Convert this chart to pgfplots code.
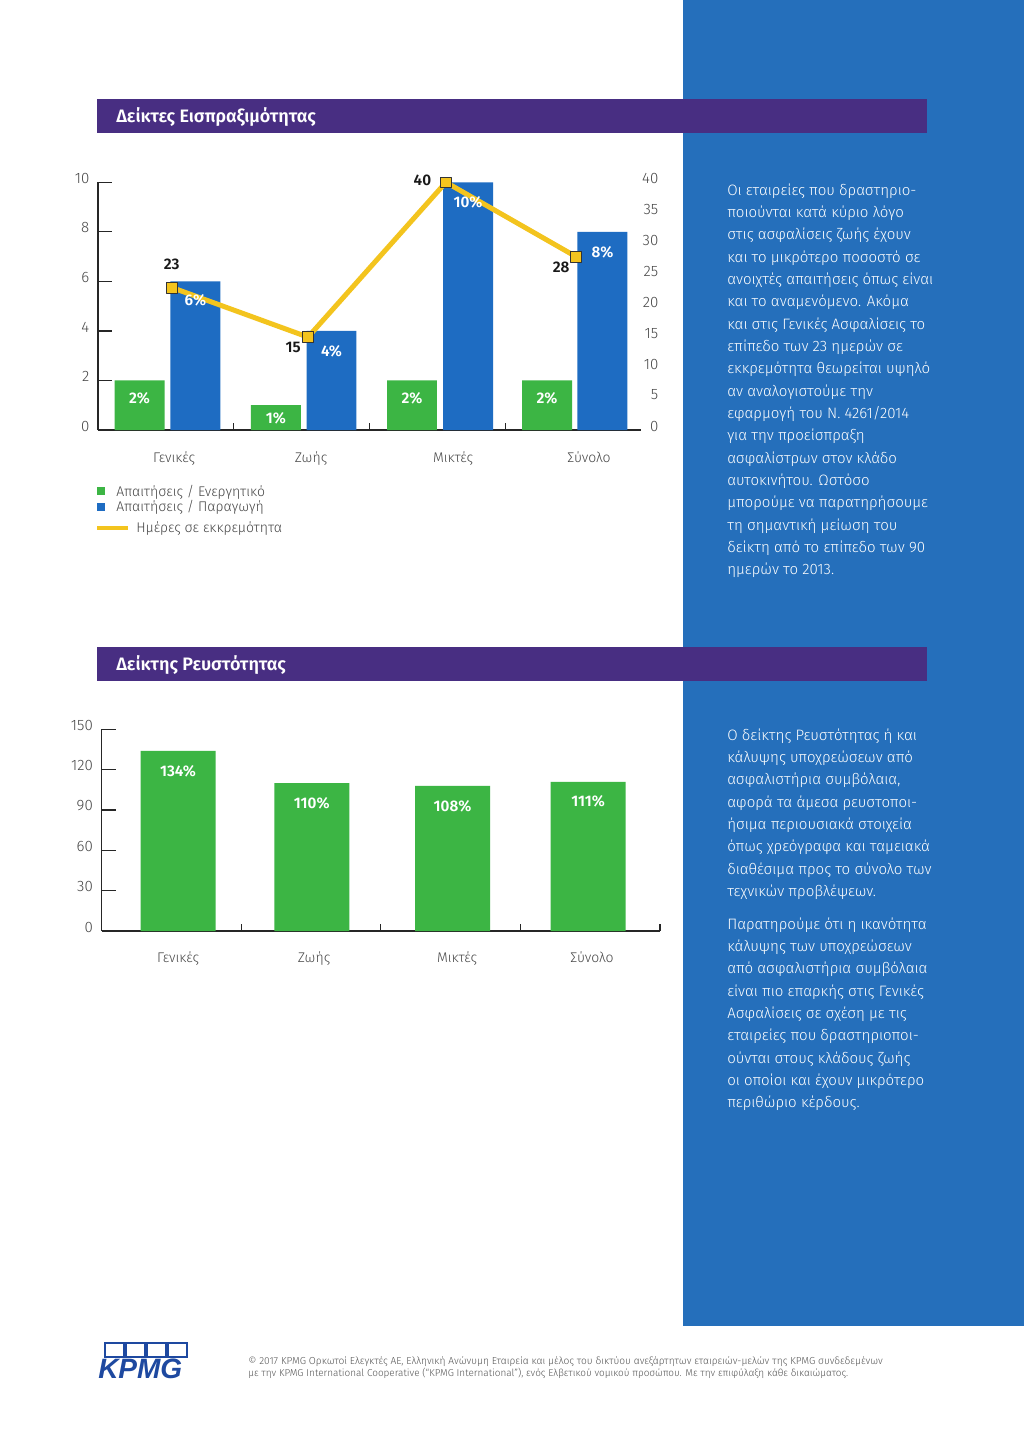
\documentclass[border=0pt]{standalone}
\usepackage{pgfplots}
\pgfplotsset{compat=1.18}
\usepackage{fontspec}
\setmainfont{Fira Sans}[UprightFont={* Light}, BoldFont={* SemiBold}, ItalicFont={* Light Italic}, BoldItalicFont={* SemiBold Italic}]
\newfontfamily\arialfont{Liberation Sans}
\definecolor{panelblue}{RGB}{37,111,187}
\definecolor{hdrpurple}{RGB}{72,46,130}
\definecolor{bargreen}{RGB}{60,181,68}
\definecolor{barblue}{RGB}{30,108,194}
\definecolor{lineyellow}{RGB}{243,196,30}
\definecolor{ticktext}{RGB}{70,70,70}
\definecolor{kpmgblue}{RGB}{30,73,160}
\definecolor{foot}{RGB}{85,85,85}
\pgfplotsset{/pgf/number format/assume math mode=true}
\begin{document}
\begin{tikzpicture}
\begin{scope}[x=0.75pt,y=-0.75pt]
\useasboundingbox (0,0) rectangle (1024,1439);
\fill[white] (0,0) rectangle (1024,1439);
\fill[panelblue] (683,0) rectangle (1024,1326);
\fill[hdrpurple] (97,99) rectangle (927,133);
\fill[hdrpurple] (97,647) rectangle (927,681);
\node[anchor=base west, inner sep=0, text=white, font=\bfseries\fontsize{13.5}{16}\selectfont] at (116,122) {Δείκτες Εισπραξιμότητας};
\node[anchor=base west, inner sep=0, text=white, font=\bfseries\fontsize{13.5}{16}\selectfont] at (116,670) {Δείκτης Ρευστότητας};
% right panel text
\foreach \t [count=\i from 0] in {{Οι εταιρείες που δραστηριο-},{ποιούνται κατά κύριο λόγο},{στις ασφαλίσεις ζωής έχουν},{και το μικρότερο ποσοστό σε},{ανοιχτές απαιτήσεις όπως είναι},{και το αναμενόμενο. Ακόμα},{και στις Γενικές Ασφαλίσεις το},{επίπεδο των 23 ημερών σε},{εκκρεμότητα θεωρείται υψηλό},{αν αναλογιστούμε την},{εφαρμογή του Ν. 4261/2014},{για την προείσπραξη},{ασφαλίστρων στον κλάδο},{αυτοκινήτου. Ωστόσο},{μπορούμε να παρατηρήσουμε},{τη σημαντική μείωση του},{δείκτη από το επίπεδο των 90},{ημερών το 2013.}}
  \node[anchor=base west, inner sep=0, text=white, font=\fontsize{11.3}{13}\selectfont] at (727,{195+22.35*\i}) {\t};
\foreach \t [count=\i from 0] in {{Ο δείκτης Ρευστότητας ή και},{κάλυψης υποχρεώσεων από},{ασφαλιστήρια συμβόλαια,},{αφορά τα άμεσα ρευστοποι-},{ήσιμα περιουσιακά στοιχεία},{όπως χρεόγραφα και ταμειακά},{διαθέσιμα προς το σύνολο των},{τεχνικών προβλέψεων.}}
  \node[anchor=base west, inner sep=0, text=white, font=\fontsize{11.3}{13}\selectfont] at (727,{740+22.35*\i}) {\t};
\foreach \t [count=\i from 0] in {{Παρατηρούμε ότι η ικανότητα},{κάλυψης των υποχρεώσεων},{από ασφαλιστήρια συμβόλαια},{είναι πιο επαρκής στις Γενικές},{Ασφαλίσεις σε σχέση με τις},{εταιρείες που δραστηριοποι-},{ούνται στους κλάδους ζωής},{οι οποίοι και έχουν μικρότερο},{περιθώριο κέρδους.}}
  \node[anchor=base west, inner sep=0, text=white, font=\fontsize{11.3}{13}\selectfont] at (727,{929+22.35*\i}) {\t};
% legend chart 1
\fill[bargreen] (97,487) rectangle (105,495);
\node[anchor=base west, inner sep=0, text=ticktext, font=\fontsize{10.5}{12}\selectfont] at (116,496) {Απαιτήσεις / Ενεργητικό};
\fill[barblue] (97,503) rectangle (105,511);
\node[anchor=base west, inner sep=0, text=ticktext, font=\fontsize{10.5}{12}\selectfont] at (116,511) {Απαιτήσεις / Παραγωγή};
\draw[lineyellow, line width=3.5pt] (97,528) -- (128,528);
\node[anchor=base west, inner sep=0, text=ticktext, font=\fontsize{10.5}{12}\selectfont] at (136,532) {Ημέρες σε εκκρεμότητα};
% category labels
\foreach \x/\t in {174/Γενικές,311/Ζωής,453/Μικτές,589/Σύνολο}
  \node[anchor=base, inner sep=0, text=ticktext, font=\fontsize{10.5}{12}\selectfont] at (\x,462) {\t};
\foreach \x/\t in {178/Γενικές,314/Ζωής,457/Μικτές,592/Σύνολο}
  \node[anchor=base, inner sep=0, text=ticktext, font=\fontsize{10.5}{12}\selectfont] at (\x,962) {\t};
% footer
\foreach \x in {105,126,147,168}
  \draw[kpmgblue, line width=0.8pt] (\x,1343) rectangle (\x+19,1357);
\node[anchor=base west, inner sep=0, text=kpmgblue, font=\arialfont\bfseries\itshape\fontsize{21}{21}\selectfont] at (98,1378) {KPMG};
\node[anchor=base west, inner sep=0, text=foot] at (248,1364) {\resizebox{476pt}{!}{\fontsize{7}{8}\selectfont © 2017 KPMG Ορκωτοί Ελεγκτές ΑΕ, Ελληνική Ανώνυμη Εταιρεία και μέλος του δικτύου ανεξάρτητων εταιρειών-μελών της KPMG συνδεδεμένων}};
\node[anchor=base west, inner sep=0, text=foot] at (248,1376) {\resizebox{450pt}{!}{\fontsize{7}{8}\selectfont με την KPMG International Cooperative (“KPMG International”), ενός Ελβετικού νομικού προσώπου. Με την επιφύλαξη κάθε δικαιώματος.}};
\end{scope}

% ---------- chart 1 left axis ----------
\begin{axis}[
  at={(73.5pt,-322.5pt)}, anchor=south west,
  scale only axis, width=407.25pt, height=185.775pt,
  xmin=0, xmax=4, ymin=0, ymax=10,
  axis x line*=bottom, axis y line*=left,
  axis line style={line width=0.9pt, black!85},
  xtick=\empty, ytick={0,2,4,6,8,10},
  tick align=inside, major tick length=10.5pt,
  tick style={line width=0.9pt, black!85},
  yticklabel style={font=\fontsize{11.3}{13}\selectfont, text=ticktext, xshift=-3pt, yshift=3pt},
  clip=false,
]
\addplot[ybar, bar shift=0pt, bar width=0.368, fill=bargreen, draw=none] coordinates {(0.306,2) (1.311,1) (2.313,2) (3.308,2)};
\addplot[ybar, bar shift=0pt, bar width=0.368, fill=barblue, draw=none] coordinates {(0.717,6) (1.720,4) (2.726,10) (3.716,8)};
\foreach \k in {1,2,3} {\edef\tmp{\noexpand\draw[line width=0.9pt, black!85] (axis cs:\k,0) -- ++(0pt,5.25pt);}\tmp}
\end{axis}
% ---------- chart 1 right axis ----------
\begin{axis}[
  at={(73.5pt,-322.5pt)}, anchor=south west,
  scale only axis, width=407.25pt, height=185.775pt,
  xmin=0, xmax=4, ymin=0, ymax=40,
  axis x line=none, axis y line*=right,
  y axis line style={draw=none},
  ytick={0,5,...,40}, major tick length=0pt,
  yticklabel style={font=\fontsize{11.3}{13}\selectfont, text=ticktext, anchor=east, xshift=16.5pt, yshift=3pt},
  clip=false,
]
\addplot[lineyellow, line width=3.75pt, line join=round, mark=square*, mark size=4pt,
  mark options={fill=lineyellow, draw=black!80, line width=0.6pt}]
  coordinates {(0.545,23) (1.547,15) (2.563,40) (3.521,28)};
% bar value labels (in right-axis units = 4 x left-axis units)
\addplot[draw=none, mark=none, nodes near coords, point meta=explicit symbolic, nodes near coords align=center,
  every node near coord/.append style={font=\bfseries\fontsize{11.5}{13}\selectfont, text=white}]
  coordinates {(0.306,5.16) [2\%] (1.311,1.92) [1\%] (2.313,5.16) [2\%] (3.308,5.16) [2\%]
               (0.717,21.0) [6\%] (1.720,12.76) [4\%] (2.726,36.8) [10\%] (3.716,28.76) [8\%]};
\addplot[draw=none, mark=none, nodes near coords, point meta=explicit symbolic, nodes near coords align=center,
  every node near coord/.append style={font=\bfseries\fontsize{11.5}{13}\selectfont, text=black!90}]
  coordinates {(0.543,26.76) [23] (1.438,13.36) [15] (2.39,40.28) [40] (3.412,26.2) [28]};
\end{axis}
% ---------- chart 2 ----------
\begin{axis}[
  at={(76.125pt,-698.25pt)}, anchor=south west,
  scale only axis, width=418.875pt, height=151.275pt,
  xmin=0, xmax=4, ymin=0, ymax=150,
  axis x line*=bottom, axis y line*=left,
  axis line style={line width=0.9pt, black!85},
  xtick=\empty, ytick={0,30,...,150},
  tick align=inside, major tick length=10.5pt,
  tick style={line width=0.9pt, black!85},
  yticklabel style={font=\fontsize{11.3}{13}\selectfont, text=ticktext, xshift=-3pt, yshift=3pt},
  clip=false,
]
\addplot[ybar, bar shift=0pt, bar width=0.537, fill=bargreen, draw=none,
  nodes near coords, point meta=explicit symbolic, nodes near coords align=center,
  every node near coord/.append style={font=\bfseries\fontsize{11.5}{13}\selectfont, text=white, yshift=-15pt}]
  coordinates {(0.548,134) [134\%] (1.506,110) [110\%] (2.514,108) [108\%] (3.485,111) [111\%]};
\foreach \k in {1,2,3,4} {\edef\tmp{\noexpand\draw[line width=0.9pt, black!85] (axis cs:\k,0) -- ++(0pt,5.25pt);}\tmp}
\end{axis}
\end{tikzpicture}
\end{document}
